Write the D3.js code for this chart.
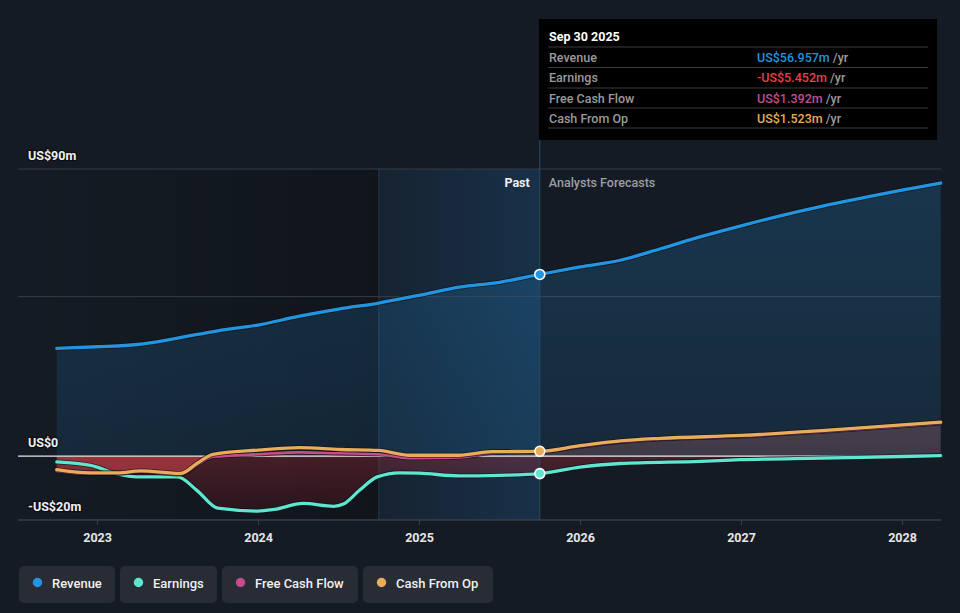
<!DOCTYPE html>
<html><head><meta charset="utf-8">
<script src="https://cdn.jsdelivr.net/npm/d3@7"></script>
<style>
html,body{margin:0;padding:0;background:#151b24;}
svg{display:block;font-family:Roboto,"Open Sans",sans-serif;}
</style></head>
<body><svg id="c" width="960" height="613"></svg>
<script>
// ---- data (year fraction, US$ millions) ----
const revenuePast = [[2022.75,33.8],[2023.0,34.3],[2023.25,35.0],[2023.5,37.0],[2023.75,39.3],[2024.0,41.1],[2024.25,43.8],[2024.5,46.1],[2024.75,48.0],[2025.0,50.4],[2025.25,53.0],[2025.5,54.5],[2025.75,56.957]];
const revenueForecast = [[2025.75,56.957],[2026.0,59.3],[2026.25,61.4],[2026.5,65.0],[2026.75,68.8],[2027.0,72.2],[2027.25,75.4],[2027.5,78.3],[2027.75,80.9],[2028.0,83.4],[2028.24,85.6]];
const earningsPast = [[2022.75,-1.8],[2022.96,-2.9],[2023.13,-5.6],[2023.27,-6.5],[2023.5,-6.5],[2023.62,-10.7],[2023.75,-16.3],[2024.0,-17.2],[2024.1,-16.7],[2024.28,-14.8],[2024.47,-15.7],[2024.53,-15.0],[2024.63,-10.7],[2024.74,-6.5],[2024.88,-5.2],[2025.0,-5.3],[2025.25,-6.2],[2025.5,-6.0],[2025.75,-5.452]];
const earningsForecast = [[2025.75,-5.452],[2026.0,-3.4],[2026.25,-2.3],[2026.75,-1.6],[2027.0,-1.1],[2027.5,-0.6],[2028.0,-0.1],[2028.24,0.2]];
const fcfPast = [[2022.75,-4.6],[2022.96,-5.5],[2023.13,-5.5],[2023.27,-4.9],[2023.52,-5.7],[2023.62,-2.8],[2023.72,-0.2],[2024.0,0.6],[2024.26,1.2],[2024.51,0.9],[2024.75,0.6],[2024.94,-0.6],[2025.25,-0.4],[2025.45,1.0],[2025.75,1.392]];
const fcfForecast = [[2025.75,1.392],[2026.0,3.0],[2026.25,4.5],[2026.5,5.3],[2027.0,6.2],[2027.5,7.7],[2028.0,9.4],[2028.24,10.3]];
const cfoPast = [[2022.75,-4.2],[2022.96,-5.2],[2023.13,-5.2],[2023.27,-4.6],[2023.52,-5.4],[2023.62,-2.3],[2023.72,0.6],[2024.0,1.9],[2024.26,2.7],[2024.51,2.1],[2024.75,1.8],[2024.94,0.3],[2025.25,0.3],[2025.45,1.4],[2025.75,1.523]];
const cfoForecast = [[2025.75,1.523],[2026.0,3.3],[2026.25,4.8],[2026.5,5.6],[2027.0,6.5],[2027.5,8.0],[2028.0,9.8],[2028.24,10.7]];
const xTickYears = [2023,2024,2025,2026,2027,2028];
const xTickLabels = ["2023","2024","2025","2026","2027","2028"];
const yTickValues = [90,0,-20];
const yTickLabels = ["US$90m","US$0","-US$20m"];
const gridValues = [90,50];
const pastStart = 2024.75, pastEnd = 2025.75;
const seriesNames = ["Revenue","Earnings","Free Cash Flow","Cash From Op"];
const seriesColors = ["#2394df","#5ee6d0","#c84b8c","#e8ac5a"];
const tooltipTitle = "Sep 30 2025";
const tooltipValues = ["US$56.957m","-US$5.452m","US$1.392m","US$1.523m"];
const tooltipColors = ["#2394df","#ee3e48","#c84b8c","#e8ac5a"];

// ---- layout ----
const svg = d3.select("#c");
const L = 18, R = 941, T = 169, B = 520;
const x = d3.scaleLinear().domain([2022.509, 2028.242]).range([L, R]);
const y = d3.scaleLinear().domain([-20, 90]).range([B, T]);
const defs = svg.append("defs");
const zeroOff = (y(0)-T)/(B-T);

function lg(id, stops, x2=0, y2=1, user=false){
  const g = defs.append("linearGradient").attr("id", id);
  if(user){ g.attr("gradientUnits","userSpaceOnUse").attr("x1",0).attr("x2",0).attr("y1",T).attr("y2",B); }
  else { g.attr("x1",0).attr("y1",0).attr("x2",x2).attr("y2",y2); }
  stops.forEach(s=>g.append("stop").attr("offset",s[0]).attr("stop-color",s[1]).attr("stop-opacity",s[2]));
}
lg("leftShade",[[0,"#000",0],[1,"#000",0.22]],1,0);
lg("pastShade",[[0,"#1d5a8c",0.12],[1,"#1d5a8c",0.35]],1,0);
lg("revFill",[[0,"#2394df",0.22],[1,"#2394df",0.12]]);
lg("earnFill",[[0,"#c0303c",0.3],[1,"#60101a",0.3]]);
lg("fcfFill",[[0,"#c84b8c",0.18],[zeroOff,"#c84b8c",0.14],[zeroOff,"#d8344a",0.5],[1,"#d8344a",0.5]],0,1,true);
lg("cfoFill",[[0,"#e8ac5a",0.12],[1,"#e8ac5a",0.06]]);

svg.append("rect").attr("width",960).attr("height",613).attr("fill","#151b24");
// background regions
svg.append("rect").attr("x",L).attr("y",T).attr("width",x(pastStart)-L).attr("height",B-T).attr("fill","url(#leftShade)");
svg.append("rect").attr("x",x(pastStart)).attr("y",T).attr("width",x(pastEnd)-x(pastStart)).attr("height",B-T).attr("fill","url(#pastShade)");
svg.append("line").attr("x1",x(pastStart)).attr("x2",x(pastStart)).attr("y1",T).attr("y2",B).attr("stroke","#1f3a52").attr("stroke-width",1);

// grid
svg.selectAll(".grid").data(gridValues).join("line")
  .attr("x1",L).attr("x2",R).attr("y1",d=>y(d)).attr("y2",d=>y(d))
  .attr("stroke","#363c45").attr("stroke-width",1);

const curve = d3.curveMonotoneX;
const area = d3.area().x(d=>x(d[0])).y0(y(0)).y1(d=>y(d[1])).curve(curve);
const line = d3.line().x(d=>x(d[0])).y(d=>y(d[1])).curve(curve);

const revAll = revenuePast.concat(revenueForecast.slice(1));
const earnAll = earningsPast.concat(earningsForecast.slice(1));
const fcfAll = fcfPast.concat(fcfForecast.slice(1));
const cfoAll = cfoPast.concat(cfoForecast.slice(1));

svg.append("path").attr("d",area(revAll)).attr("fill","url(#revFill)");
svg.append("path").attr("d",area(earnAll)).attr("fill","url(#earnFill)");
svg.append("path").attr("d",area(fcfAll)).attr("fill","url(#fcfFill)");
svg.append("path").attr("d",area(cfoAll)).attr("fill","url(#cfoFill)");

// zero line
svg.append("line").attr("x1",L).attr("x2",R).attr("y1",y(0)).attr("y2",y(0)).attr("stroke","#e8e8e8").attr("stroke-width",1.2);

// vertical marker line
svg.append("line").attr("x1",x(pastEnd)).attr("x2",x(pastEnd)).attr("y1",139).attr("y2",B).attr("stroke","#2a4a66").attr("stroke-width",1);

function drawLine(data,color,w){
  svg.append("path").attr("d",line(data)).attr("fill","none").attr("stroke","#0b0e13").attr("stroke-width",w+1.6).attr("stroke-opacity",0.7).attr("stroke-linejoin","round");
  svg.append("path").attr("d",line(data)).attr("fill","none").attr("stroke",color).attr("stroke-width",w).attr("stroke-linejoin","round").attr("stroke-linecap","round");
}
drawLine(earnAll, seriesColors[1], 3.3);
drawLine(fcfAll, seriesColors[2], 2.6);
drawLine(cfoAll, seriesColors[3], 3.3);
drawLine(revAll, seriesColors[0], 3.3);

// markers
const markers = [[revenuePast,0],[earningsPast,1],[cfoPast,3]];
markers.forEach(([d,i])=>{
  const p = d[d.length-1];
  svg.append("circle").attr("cx",x(p[0])).attr("cy",y(p[1])).attr("r",5).attr("fill",seriesColors[i]).attr("stroke","#fff").attr("stroke-width",1.6);
});

// x axis
svg.append("line").attr("x1",L).attr("x2",R).attr("y1",B).attr("y2",B).attr("stroke","#3a3f48").attr("stroke-width",1.5);
const xAxis = d3.axisBottom(x).tickValues(xTickYears).tickFormat((d,i)=>xTickLabels[i]).tickSize(5).tickPadding(8);
const gx = svg.append("g").attr("transform",`translate(0,${B})`).call(xAxis);
gx.select(".domain").remove();
gx.selectAll(".tick line").attr("stroke","#3a3f48");
gx.selectAll(".tick text").attr("fill","#e6e6e6").attr("font-size",12.5).attr("font-weight",700).attr("font-family","Roboto,sans-serif");

// y labels
svg.selectAll(".ylab").data(yTickValues).join("text")
  .attr("x",28).attr("y",d=>y(d)-9).text((d,i)=>yTickLabels[i])
  .attr("fill","#f0f0f0").attr("font-size",12.5).attr("font-weight",700)
  .attr("stroke","#0b0e13").attr("stroke-width",2.5).attr("paint-order","stroke");

// Past / Forecast labels
svg.append("text").attr("x",x(pastEnd)-10).attr("y",187).attr("text-anchor","end").text("Past")
  .attr("fill","#f0f0f0").attr("font-size",12.5).attr("font-weight",700);
svg.append("text").attr("x",x(pastEnd)+9).attr("y",187).text("Analysts Forecasts")
  .attr("fill","#9a9ea4").attr("font-size",12.5).attr("font-weight",500);

// tooltip
const tt = svg.append("g");
tt.append("rect").attr("x",539).attr("y",19).attr("width",398).attr("height",121).attr("fill","#000");
tt.append("text").attr("x",549).attr("y",41).text(tooltipTitle).attr("fill","#fff").attr("font-size",12.5).attr("font-weight",700);
const rowY = [47,67.5,88,108,128];
rowY.forEach(ry=>tt.append("line").attr("x1",548).attr("x2",928).attr("y1",ry).attr("y2",ry).attr("stroke","#3a3a3a").attr("stroke-width",1));
seriesNames.forEach((n,i)=>{
  const by = rowY[i]+14.5;
  tt.append("text").attr("x",549).attr("y",by).text(n).attr("fill","#9a9a9a").attr("font-size",12.5).attr("font-weight",500);
  const t = tt.append("text").attr("x",757).attr("y",by).attr("font-size",12.5).attr("font-weight",500);
  t.append("tspan").text(tooltipValues[i]).attr("fill",tooltipColors[i]);
  t.append("tspan").text(" /yr").attr("fill","#9a9a9a");
});

// legend
const legW = [96,97,136,130];
let lx = 19;
seriesNames.forEach((n,i)=>{
  const g = svg.append("g").attr("transform",`translate(${lx},566)`);
  g.append("rect").attr("width",legW[i]).attr("height",37).attr("rx",5).attr("fill","#272c35");
  g.append("circle").attr("cx",18.5).attr("cy",16.5).attr("r",4.7).attr("fill",seriesColors[i]);
  g.append("text").attr("x",33).attr("y",21.5).text(n).attr("fill","#f0f0f0").attr("font-size",13).attr("font-weight",500);
  lx += legW[i] + 5;
});
</script></body></html>
